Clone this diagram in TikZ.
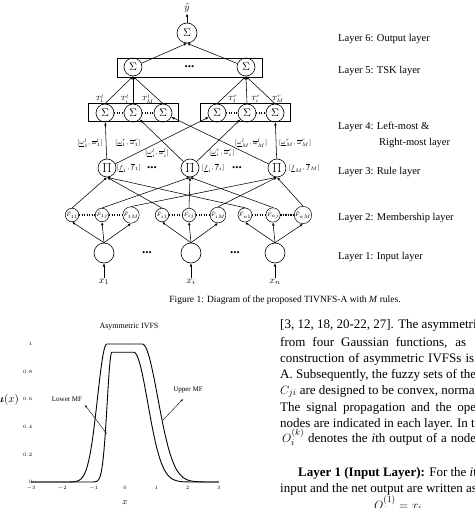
\documentclass[tikz,border=0pt]{standalone}
\usepackage{fontspec}
\setmainfont{Liberation Serif}
\usepackage{amsmath}
\usetikzlibrary{arrows.meta}
\begin{document}
\begin{tikzpicture}[x=1pt,y=-1pt,
  arr/.style={-{Latex[length=3.2pt,width=2.6pt]}, line width=0.55pt},
  bigc/.style={circle, draw, line width=0.6pt, minimum size=20pt, inner sep=0pt, font=\fontsize{11}{12}\selectfont},
  midc/.style={circle, draw, line width=0.6pt, minimum size=18pt, inner sep=0pt, font=\fontsize{11}{12}\selectfont},
  smallc/.style={circle, draw, line width=0.5pt, minimum size=13.5pt, inner sep=0pt, font=\fontsize{3.8}{4}\selectfont},
  rbox/.style={draw, line width=0.6pt, inner sep=0pt},
  lbl/.style={font=\fontsize{6.5}{7}\selectfont, inner sep=0.5pt},
  layer/.style={anchor=west, font=\fontsize{10.5}{12}\selectfont, inner sep=0pt},
  body/.style={anchor=base west, font=\fontsize{13}{15}\selectfont, inner sep=0pt},
  dotsep/.style={line width=1.1pt, dash pattern=on 1.1pt off 1.4pt},
  tdots/.style={font=\fontsize{13}{13}\selectfont\bfseries, inner sep=0pt},
  curve/.style={line width=0.9pt},
  ticklbl/.style={font=\fontsize{4}{4}\selectfont, inner sep=0.5pt},
]
\useasboundingbox (0,0) rectangle (474,508);
\fill[white] (0,0) rectangle (474,508);
\clip (0,0) rectangle (474,508);

% ---------- Layer 6
\node[bigc] (out) at (187,33) {$\Sigma$};
\node[inner sep=1pt, font=\fontsize{10}{11}\selectfont] (ytil) at (187,8) {$\tilde{y}$};
\draw[arr] (out) -- (ytil);

% ---------- Layer 5
\node[rbox, minimum width=145pt, minimum height=19pt] (L5) at (189.5,67.5) {};
\node[midc] (s5a) at (133,67) {$\Sigma$};
\node[midc] (s5b) at (246,67) {$\Sigma$};
\node[tdots] (d5) at (189.5,67) {...};
\draw[arr] (s5a) -- (out.south);
\draw[arr] (s5b) -- (out.south);

% ---------- Layer 4
\node[rbox, minimum width=90pt, minimum height=18.5pt] (L4a) at (133,112.5) {};
\node[rbox, minimum width=90pt, minimum height=18.5pt] (L4b) at (245,112.5) {};
\node[midc] (s4la) at (105,113) {$\Sigma$};
\node[midc] (s4lb) at (133,113) {$\Sigma$};
\node[midc] (s4lc) at (163,113) {$\Sigma$};
\node[midc] (s4ra) at (217,113) {$\Sigma$};
\node[midc] (s4rb) at (247,113) {$\Sigma$};
\node[midc] (s4rc) at (275,113) {$\Sigma$};
\draw[dotsep] (s4la) -- (s4lb);
\draw[dotsep] (s4lb) -- (s4lc);
\draw[dotsep] (s4ra) -- (s4rb);
\draw[dotsep] (s4rb) -- (s4rc);
\foreach \n in {s4la,s4lb,s4lc} \draw[arr] (\n.north) -- (s5a.south);
\foreach \n in {s4ra,s4rb,s4rc} \draw[arr] (\n.north) -- (s5b.south);
\node[lbl] (t1l) at (100,99) {$T_1^l$};
\node[lbl] (til) at (125,99) {$T_i^l$};
\node[lbl] (tml) at (148,99) {$T_M^l$};
\node[lbl] (t1r) at (233,99) {$T_1^r$};
\node[lbl] (tir) at (256,99) {$T_i^r$};
\node[lbl] (tmr) at (278,99) {$T_M^r$};

% ---------- Layer 3
\node[midc, font=\fontsize{9}{10}\selectfont] (p1) at (107,168) {$\textstyle\prod$};
\node[midc, font=\fontsize{9}{10}\selectfont] (pi) at (190,168) {$\textstyle\prod$};
\node[midc, font=\fontsize{9}{10}\selectfont] (pM) at (277,168) {$\textstyle\prod$};
\node[lbl, anchor=west] (f1) at (116,168) {$[\underline{f}_1,\overline{f}_1]$};
\node[lbl, anchor=west] (fi) at (201,168) {$[\underline{f}_i,\overline{f}_i]$};
\node[lbl, anchor=west] (fM) at (288,168) {$[\underline{f}_M,\overline{f}_M]$};
\node[tdots] (d3a) at (152,168) {...};
\node[tdots] (d3b) at (237,168) {...};
\draw[arr] (p1) -- (s4la);
\draw[arr] (p1) -- (s4ra);
\draw[arr] (pi) -- (s4lb);
\draw[arr] (pi) -- (s4rb);
\draw[arr] (pM) -- (s4lc);
\draw[arr] (pM) -- (s4rc);
\node[lbl] (w1l) at (90,143) {$[\underline{\omega}_1^l,\overline{\omega}_1^l]$};
\node[lbl] (w1r) at (128,143) {$[\underline{\omega}_1^r,\overline{\omega}_1^r]$};
\node[lbl] (wil) at (157,153) {$[\underline{\omega}_i^l,\overline{\omega}_i^l]$};
\node[lbl] (wir) at (222,153) {$[\underline{\omega}_i^r,\overline{\omega}_i^r]$};
\node[lbl] (wml) at (251,143) {$[\underline{\omega}_M^l,\overline{\omega}_M^l]$};
\node[lbl] (wmr) at (295,143) {$[\underline{\omega}_M^r,\overline{\omega}_M^r]$};

% ---------- Layer 2
\node[smallc] (F11) at (72,215) {$\tilde F_{11}$};
\node[smallc] (F1j) at (102,215) {$\tilde F_{1j}$};
\node[smallc] (F1M) at (131,215) {$\tilde F_{1M}$};
\node[smallc] (Fi1) at (162,215) {$\tilde F_{i1}$};
\node[smallc] (Fij) at (189,215) {$\tilde F_{ij}$};
\node[smallc] (FiM) at (218,215) {$\tilde F_{iM}$};
\node[smallc] (Fn1) at (245,215) {$\tilde F_{n1}$};
\node[smallc] (Fnj) at (273,215) {$\tilde F_{nj}$};
\node[smallc] (FnM) at (303,215) {$\tilde F_{nM}$};
\foreach \a/\b in {F11/F1j,F1j/F1M,Fi1/Fij,Fij/FiM,Fn1/Fnj,Fnj/FnM}
  \draw[dotsep] (\a) -- (\b);
\foreach \n in {F11,Fi1,Fn1} \draw[arr] (\n.north) -- (p1.south);
\foreach \n in {F1j,Fij,Fnj} \draw[arr] (\n.north) -- (pi.south);
\foreach \n in {F1M,FiM,FnM} \draw[arr] (\n.north) -- (pM.south);

% ---------- Layer 1
\node[bigc] (in1) at (104,253) {};
\node[bigc] (ini) at (191,253) {};
\node[bigc] (inn) at (275,253) {};
\node[tdots] (d1a) at (147,253) {...};
\node[tdots] (d1b) at (235,253) {...};
\foreach \n in {F11,F1j,F1M} \draw[arr] (in1.north) -- (\n.south);
\foreach \n in {Fi1,Fij,FiM} \draw[arr] (ini.north) -- (\n.south);
\foreach \n in {Fn1,Fnj,FnM} \draw[arr] (inn.north) -- (\n.south);
\node[inner sep=1pt, font=\fontsize{10}{11}\selectfont] (x1) at (104,282) {$x_1$};
\node[inner sep=1pt, font=\fontsize{10}{11}\selectfont] (xi) at (191,282) {$x_i$};
\node[inner sep=1pt, font=\fontsize{10}{11}\selectfont] (xn) at (275,282) {$x_n$};
\draw[arr] (x1) -- (in1);
\draw[arr] (xi) -- (ini);
\draw[arr] (xn) -- (inn);

% ---------- layer names
\node[layer] (n6) at (338,39) {Layer 6: Output layer};
\node[layer] (n5) at (338,71) {Layer 5: TSK layer};
\node[layer] (n4) at (338,127) {Layer 4: Left-most \&};
\node[layer] (n4b) at (379,143) {Right-most layer};
\node[layer] (n3) at (338,172) {Layer 3: Rule layer};
\node[layer] (n2) at (338,218) {Layer 2: Membership layer};
\node[layer] (n1) at (338,257) {Layer 1: Input layer};

% ---------- caption
\node[font=\fontsize{9.5}{11}\selectfont, inner sep=0pt] (cap) at (285,300) {Figure 1: Diagram of the proposed TIVNFS-A with \textit{M} rules.};

% ---------- plot
\node[font=\fontsize{8}{9}\selectfont, inner sep=0pt] (ptitle) at (129,327) {Asymmetric IVFS};
\begin{scope}[shift={(125pt,-482pt)}, x=31.3pt, y=138pt]
  \draw[curve] (-3,0) -- plot[domain=-1.85:-0.58, samples=60, smooth] (\x,{exp(-((\x+0.58)^2)/0.18)})
     -- plot[domain=0.55:2.67, samples=80, smooth] (\x,{exp(-((\x-0.55)^2)/0.5)}) -- (3,0);
  \draw[curve] (-3,0) -- plot[domain=-1.05:-0.42, samples=50, smooth] (\x,{0.94*exp(-((\x+0.42)^2)/0.045)})
     -- plot[domain=0.28:2.18, samples=80, smooth] (\x,{0.94*exp(-((\x-0.28)^2)/0.405)}) -- (3,0);
\end{scope}
\node[ticklbl] (xta) at (31.1,488) {$-3$};
\node[ticklbl] (xtb) at (62.4,488) {$-2$};
\node[ticklbl] (xtc) at (93.7,488) {$-1$};
\node[ticklbl] (xtd) at (125,488) {$0$};
\node[ticklbl] (xte) at (156.3,488) {$1$};
\node[ticklbl] (xtf) at (187.6,488) {$2$};
\node[ticklbl] (xtg) at (218.9,488) {$3$};
\node[ticklbl, anchor=east] (yta) at (33,482) {$0$};
\node[ticklbl, anchor=east] (ytb) at (33,454.4) {$0.2$};
\node[ticklbl, anchor=east] (ytc) at (33,426.8) {$0.4$};
\node[ticklbl, anchor=east] (ytd) at (33,399.2) {$0.6$};
\node[ticklbl, anchor=east] (yte) at (33,371.6) {$0.8$};
\node[ticklbl, anchor=east] (ytf) at (33,344) {$1$};
\node[anchor=east, inner sep=0pt, font=\fontsize{11}{12}\selectfont] (mulab) at (19,400) {$\boldsymbol{\mu}(x)$};
\node[inner sep=0pt, font=\fontsize{9}{10}\selectfont] (xlab) at (125,503) {$x$};
\node[font=\fontsize{7}{8}\selectfont, inner sep=0pt] (lowl) at (67,399) {Lower MF};
\node[font=\fontsize{7}{8}\selectfont, inner sep=0pt] (upl) at (188,390) {Upper MF};
\coordinate (lowpt) at (107,434);
\coordinate (lowtip) at (85,405);
\coordinate (uppt) at (163,420);
\coordinate (uptip) at (183,399);
\draw[-{Latex[length=2.5pt,width=2pt]}, line width=0.4pt] (lowpt) -- (lowtip);
\draw[-{Latex[length=2.5pt,width=2pt]}, line width=0.4pt] (uppt) -- (uptip);

% ---------- body text
\node[body] (b1) at (280,328) {[3, 12, 18, 20-22, 27]. The asymmetric IVFS};
\node[body] (b2) at (280,346) {\makebox[186pt][s]{from four Gaussian functions, as}};
\node[body] (b3) at (280,362) {\makebox[194pt][s]{construction of asymmetric IVFSs is}};
\node[body] (b4) at (280,378) {\makebox[196pt][s]{A. Subsequently, the fuzzy sets of the}};
\node[body] (b5) at (280,394) {$C_{ji}$ are designed to be convex, normal};
\node[body] (b6) at (280,411) {\makebox[196pt][s]{The signal propagation and the ope}};
\node[body] (b7) at (280,427) {nodes are indicated in each layer. In the};
\node[body] (b8) at (282,442) {\makebox[194pt][s]{$O_i^{(k)}$ denotes the \textit{i}th output of a node}};
\node[body] (b10) at (298,476) {\textbf{Layer 1 (Input Layer):} For the \textit{i}th};
\node[body] (b11) at (280,492) {input and the net output are written as};
\node[body, anchor=base] (b12) at (398,509) {$O_i^{(1)} = x_i$};
\end{tikzpicture}
\end{document}
